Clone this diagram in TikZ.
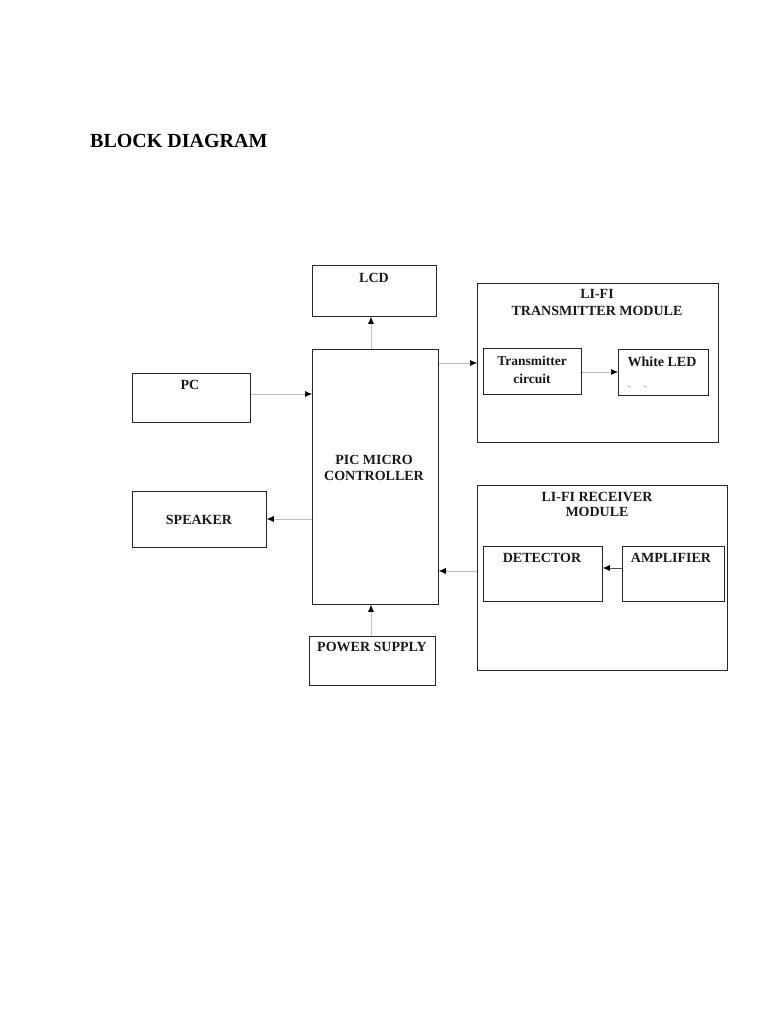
\documentclass[tikz,border=0pt]{standalone}
\usepackage{fontspec}
\setmainfont{Liberation Serif}
\usetikzlibrary{arrows.meta,calc}
\begin{document}
\begin{tikzpicture}[x=1pt,y=-1pt,
 box/.style={draw=black!85,line width=0.8pt,anchor=north west,inner sep=0pt},
 lbl/.style={font=\fontsize{14}{16}\selectfont\bfseries,align=center,inner sep=0pt,text=black!90},
 conn/.style={draw=black!25,line width=0.6pt,-{Latex[length=7pt,width=6pt,black]}}]
\useasboundingbox (0,0) rectangle (768,1024);
\node[anchor=west,inner sep=0pt,font=\fontsize{20}{24}\selectfont\bfseries] (title) at (90,141) {BLOCK DIAGRAM};
% boxes
\node[box,minimum width=124,minimum height=51] (lcd) at (312,265) {};
\node[box,minimum width=126,minimum height=255] (pic) at (312,349) {};
\node[box,minimum width=118,minimum height=49] (pc) at (132,373) {};
\node[box,minimum width=134,minimum height=56] (spk) at (132,491) {};
\node[box,minimum width=126,minimum height=49] (pwr) at (309,636) {};
\node[box,minimum width=241,minimum height=159] (tx) at (477,283) {};
\node[box,minimum width=98,minimum height=46] (txc) at (483,348) {};
\node[box,minimum width=90,minimum height=46] (led) at (618,349) {};
\node[box,minimum width=250,minimum height=185] (rx) at (477,485) {};
\node[box,minimum width=119,minimum height=55] (det) at (483,546) {};
\node[box,minimum width=102,minimum height=55] (amp) at (622,546) {};
% labels
\node[lbl] (lcdt) at (374,278) {LCD};
\node[lbl] (pict) at (374,468) {PIC MICRO\\CONTROLLER};
\node[lbl] (pct) at (190,385) {PC};
\node[lbl] (spkt) at (199,520) {SPEAKER};
\node[lbl] (pwrt) at (372,647) {POWER SUPPLY};
\node[lbl,font=\fontsize{14}{17}\selectfont\bfseries] (txt) at (597,302.5) {LI-FI\\TRANSMITTER MODULE};
\node[lbl,font=\fontsize{13.5}{18}\selectfont\bfseries] (txct) at (532,370) {Transmitter\\circuit};
\node[lbl] (ledt) at (662,362) {White LED};
\node[lbl,font=\fontsize{8}{8}\selectfont] (ledd) at (637,387) {.\hspace{14pt}.};
\node[lbl,font=\fontsize{14}{15}\selectfont\bfseries] (rxt) at (597,504.5) {LI-FI RECEIVER\\MODULE};
\node[lbl] (dett) at (542,558) {DETECTOR};
\node[lbl] (ampt) at (671,558) {AMPLIFIER};
% connectors
\draw[conn] (pic.north -| 371,0) -- (lcd.south -| 371,0);
\draw[conn] ([yshift=-14]pic.north east) -- (tx.west |- 0,363);
\draw[conn] ([yshift=-21]pc.north east) -- (pic.west |- 0,394);
\draw[conn] (pic.west |- 0,519) -- (spk.east |- 0,519);
\draw[conn] (pwr.north -| 371,0) -- (pic.south -| 371,0);
\draw[conn] (rx.west |- 0,571) -- (pic.east |- 0,571);
\draw[conn] (txc.east |- 0,372) -- (led.west |- 0,372);
\draw[conn,draw=black!70] (amp.west |- 0,568) -- (det.east |- 0,568);
\end{tikzpicture}
\end{document}
